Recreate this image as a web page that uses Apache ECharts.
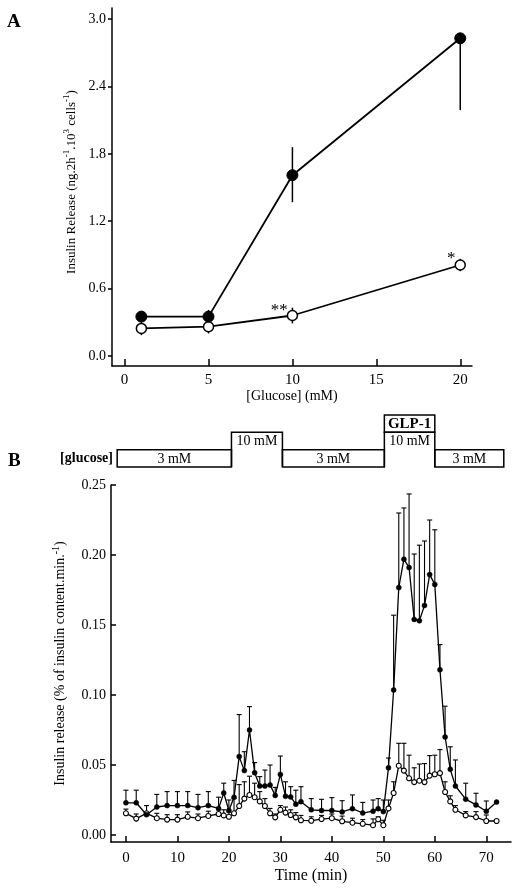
<!DOCTYPE html>
<html>
<head>
<meta charset="utf-8">
<script src="https://cdn.jsdelivr.net/npm/echarts@6/dist/echarts.min.js"></script>
<style>
  html, body { margin: 0; padding: 0; background: #fff; }
  #chart { width: 520px; height: 895px; }
</style>
</head>
<body>
<div id="chart"></div>
<script>
// ---- panel A: insulin release vs glucose ----
const glucoseConc = [1, 5, 10, 20]
const filledA = [0.35, 0.35, 1.61, 2.83]
const filledAErrUp = [0.03, 0.06, 0.25, 0]
const filledAErrDown = [0.03, 0.06, 0.24, 0.64]
const openA = [0.245, 0.26, 0.36, 0.81]
const openAErr = [0.06, 0.06, 0.07, 0.055]
const glucoseTicks = [0, 5, 10, 15, 20]
const releaseTicksA = [0, 0.6, 1.2, 1.8, 2.4, 3.0]
const starX = [9.22, 19.46]
const starY = [0.40, 0.87]
const starText = ['**', '*']

// ---- panel B: perifusion time course ----
const timeMin = [0, 2, 4, 6, 8, 10, 12, 14, 16, 18, 19, 20, 21, 22, 23, 24, 25, 26, 27, 28, 29, 30, 31, 32, 33, 34,
  36, 38, 40, 42, 44, 46, 48, 49, 50, 51, 52, 53, 54, 55, 56, 57, 58, 59, 60, 61, 62, 63, 64, 66, 68, 70, 72]
const filledB = [0.023, 0.023, 0.0145, 0.020, 0.021, 0.021, 0.021, 0.0195, 0.021, 0.019, 0.030, 0.0175, 0.027, 0.056,
  0.046, 0.075, 0.0445, 0.035, 0.035, 0.0357, 0.0283, 0.0433, 0.0277, 0.0272, 0.022, 0.0238,
  0.018, 0.0175, 0.0175, 0.0165, 0.0188, 0.0157, 0.017, 0.0188, 0.0167, 0.048, 0.1036, 0.1767, 0.197, 0.191,
  0.154, 0.153, 0.164, 0.186, 0.179, 0.118, 0.070, 0.047, 0.035, 0.0256, 0.0215, 0.017, 0.0235]
const filledBTop = [0.032, 0.032, 0.021, 0.029, 0.031, 0.031, 0.031, 0.029, 0.031, 0.027, 0.037, 0.025, 0.039, 0.086,
  0.0595, 0.0917, 0.0517, 0.0417, 0.0464, 0.05, 0.034, 0.0564, 0.038, 0.0345, 0.032, 0.0345,
  0.026, 0.0255, 0.0267, 0.0245, 0.0286, 0.0233, 0.025, 0.026, 0.025, 0.055, 0.157, 0.230, 0.2336, 0.2436,
  0.2007, 0.207, 0.21, 0.225, 0.218, 0.136, 0.092, 0.063, 0.0536, 0.037, 0.0298, 0.0243, null]
const openB = [0.0155, 0.0117, 0.0155, 0.012, 0.011, 0.011, 0.013, 0.012, 0.0136, 0.015, 0.014, 0.013, 0.0155, 0.0207,
  0.026, 0.0286, 0.027, 0.024, 0.0207, 0.0155, 0.0126, 0.018, 0.016, 0.0143, 0.0126, 0.0105,
  0.0102, 0.0114, 0.012, 0.0098, 0.0088, 0.008, 0.007, 0.0112, 0.007, 0.019, 0.030, 0.0495, 0.046, 0.0405,
  0.0378, 0.0388, 0.0378, 0.0424, 0.0434, 0.0442, 0.0307, 0.024, 0.018, 0.014, 0.0128, 0.010, 0.010]
const openBTop = [0.0185, 0.015, null, 0.0155, 0.0145, 0.0145, 0.0165, 0.015, 0.017, 0.018, 0.018, 0.0165, 0.026, 0.036,
  0.038, 0.042, 0.037, 0.031, 0.026, 0.019, 0.015, 0.021, 0.02, 0.018, 0.016, 0.014,
  0.013, 0.014, 0.015, 0.0135, 0.012, 0.011, 0.0115, 0.013, 0.0105, 0.025, 0.038, 0.0655, 0.0655, 0.057,
  0.048, 0.0507, 0.051, 0.0567, 0.057, 0.061, 0.038, 0.028, 0.021, 0.0167, 0.0167, 0.0143, null]
const timeTicks = [0, 10, 20, 30, 40, 50, 60, 70]
const releaseTicksB = [0, 0.05, 0.10, 0.15, 0.20, 0.25]

// ---- perifusion protocol bar ----
const protoStart = [-1.7, 20.5, 30.4, 50.2, 50.2, 60.0]
const protoEnd = [20.5, 30.4, 50.2, 60.0, 60.0, 73.4]
const protoLow = [0, 0, 0, 0, 2, 0]
const protoHigh = [1, 2, 1, 2, 3, 1]
const protoText = ['3 mM', '10 mM', '3 mM', '10 mM', 'GLP-1', '3 mM']

const FONT = 'Liberation Serif'
const INK = '#000'

const zip = (xs, ys) => xs.map((x, i) => [x, ys[i]])

const axisBase = (extra) => Object.assign({
  type: 'value',
  splitLine: { show: false },
  axisLine: { onZero: false, lineStyle: { color: INK, width: 1.5 } },
}, extra)

// error bars for panel A: vertical line lo -> hi, no caps
const barA = (params, api) => {
  const p1 = api.coord([api.value(0), api.value(1)])
  const p2 = api.coord([api.value(0), api.value(2)])
  return { type: 'line', shape: { x1: p1[0], y1: p1[1], x2: p2[0], y2: p2[1] }, style: { stroke: INK, lineWidth: 1.5 } }
}

// error bars for panel B: upward only, with a small cap
const barB = (params, api) => {
  const p1 = api.coord([api.value(0), api.value(1)])
  const p2 = api.coord([api.value(0), api.value(2)])
  return {
    type: 'group',
    children: [
      { type: 'line', shape: { x1: p1[0], y1: p1[1], x2: p2[0], y2: p2[1] }, style: { stroke: INK, lineWidth: 1.1 } },
      { type: 'line', shape: { x1: p2[0] - 2.5, y1: p2[1], x2: p2[0] + 2.5, y2: p2[1] }, style: { stroke: INK, lineWidth: 1.1 } }
    ]
  }
}

const protoItem = (params, api) => {
  const i = params.dataIndex
  const lo = api.coord([api.value(0), api.value(2)])
  const hi = api.coord([api.value(1), api.value(3)])
  const band = api.size([0, 1])[1]
  const cx = (lo[0] + hi[0]) / 2
  const top = protoLow[i] >= 2
  const label = {
    type: 'text',
    x: cx,
    y: hi[1] + band / 2 + 0.5,
    style: {
      text: protoText[i], fill: INK, fontFamily: FONT,
      fontSize: top ? 15 : 14, fontWeight: top ? 'bold' : 'normal',
      align: 'center', verticalAlign: 'middle'
    }
  }
  let shape
  if (protoHigh[i] - protoLow[i] > 1) {
    shape = {
      type: 'polyline',
      shape: { points: [[lo[0], lo[1]], [lo[0], hi[1]], [hi[0], hi[1]], [hi[0], lo[1]]] },
      style: { stroke: INK, fill: null, lineWidth: 1.5 }
    }
  } else {
    shape = {
      type: 'rect',
      shape: { x: lo[0], y: hi[1], width: hi[0] - lo[0], height: lo[1] - hi[1] },
      style: { stroke: INK, fill: 'none', lineWidth: 1.5 }
    }
  }
  return { type: 'group', children: [shape, label] }
}

const labelStyle = { color: INK, fontFamily: FONT, fontSize: 14 }

const option = {
  animation: false,
  backgroundColor: '#fff',
  textStyle: { fontFamily: FONT, color: INK },
  grid: [
    { left: 112, top: 8, width: 360, height: 358 },
    { left: 111, top: 485, width: 400, height: 357 },
    { left: 111, top: 415, width: 400, height: 52 }
  ],
  xAxis: [
    axisBase({
      gridIndex: 0, min: -0.75, max: 20.7,
      axisTick: { inside: true, length: 7, customValues: glucoseTicks, lineStyle: { color: INK, width: 1.5 } },
      axisLabel: { customValues: glucoseTicks, margin: 7, fontSize: 15, color: INK, fontFamily: FONT },
      name: '[Glucose] (mM)', nameLocation: 'middle', nameGap: 22,
      nameTextStyle: { color: INK, fontFamily: FONT, fontSize: 14 }
    }),
    axisBase({
      gridIndex: 1, min: -2.9, max: 74.8,
      axisTick: { inside: true, length: 6, customValues: timeTicks, lineStyle: { color: INK, width: 1.5 } },
      axisLabel: { customValues: timeTicks, margin: 9, fontSize: 15, color: INK, fontFamily: FONT },
      name: 'Time (min)', nameLocation: 'middle', nameGap: 26,
      nameTextStyle: { color: INK, fontFamily: FONT, fontSize: 16 }
    }),
    { gridIndex: 2, type: 'value', min: -2.9, max: 74.8, show: false }
  ],
  yAxis: [
    axisBase({
      gridIndex: 0, min: -0.09, max: 3.1,
      axisTick: { inside: false, length: 4, customValues: releaseTicksA, lineStyle: { color: INK, width: 1.5 } },
      axisLabel: Object.assign({ customValues: releaseTicksA, margin: 6, formatter: v => v.toFixed(1) }, labelStyle),
      name: '{n|Insulin Release (ng.2h}{s|-1}{n|.10}{s|3}{n| cells}{s|-1}{n|)}',
      nameLocation: 'middle', nameGap: 30,
      nameTextStyle: {
        color: INK, fontFamily: FONT, fontSize: 13, padding: [0, 0, 0, 10],
        rich: {
          n: { fontFamily: FONT, fontSize: 13, color: INK, lineHeight: 15, verticalAlign: 'bottom' },
          s: { fontFamily: FONT, fontSize: 9, color: INK, lineHeight: 15, verticalAlign: 'top' }
        }
      }
    }),
    axisBase({
      gridIndex: 1, min: -0.005, max: 0.25,
      axisTick: { inside: true, length: 5, customValues: releaseTicksB, lineStyle: { color: INK, width: 1.5 } },
      axisLabel: Object.assign({ customValues: releaseTicksB, margin: 5, formatter: v => v.toFixed(2) }, labelStyle),
      name: '{n|Insulin release (% of insulin content.min.}{s|-1}{n|)}',
      nameLocation: 'middle', nameGap: 44,
      nameTextStyle: {
        color: INK, fontFamily: FONT, fontSize: 14,
        rich: {
          n: { fontFamily: FONT, fontSize: 14, color: INK, lineHeight: 16, verticalAlign: 'bottom' },
          s: { fontFamily: FONT, fontSize: 10, color: INK, lineHeight: 16, verticalAlign: 'top' }
        }
      }
    }),
    { gridIndex: 2, type: 'value', min: 0, max: 3, show: false }
  ],
  series: [
    // panel A
    {
      type: 'custom', xAxisIndex: 0, yAxisIndex: 0, renderItem: barA, z: 1,
      data: glucoseConc.map((c, i) => [c, openA[i] - openAErr[i], openA[i] + openAErr[i]])
    },
    {
      type: 'custom', xAxisIndex: 0, yAxisIndex: 0, renderItem: barA, z: 1,
      data: glucoseConc.map((c, i) => [c, filledA[i] - filledAErrDown[i], filledA[i] + filledAErrUp[i]])
    },
    {
      type: 'line', xAxisIndex: 0, yAxisIndex: 0, z: 3, data: zip(glucoseConc, openA),
      symbol: 'circle', symbolSize: 10, showAllSymbol: true,
      lineStyle: { color: INK, width: 1.8 },
      itemStyle: { color: '#fff', borderColor: INK, borderWidth: 1.5 }
    },
    {
      type: 'line', xAxisIndex: 0, yAxisIndex: 0, z: 4, data: zip(glucoseConc, filledA),
      symbol: 'circle', symbolSize: 11, showAllSymbol: true,
      lineStyle: { color: INK, width: 1.8 },
      itemStyle: { color: INK, borderColor: INK, borderWidth: 1 }
    },
    {
      type: 'custom', xAxisIndex: 0, yAxisIndex: 0, z: 5,
      data: starX.map((x, i) => [x, starY[i]]),
      renderItem: (params, api) => {
        const p = api.coord([api.value(0), api.value(1)])
        return {
          type: 'text', x: p[0], y: p[1],
          style: { text: starText[params.dataIndex], fill: INK, fontFamily: FONT, fontSize: 17, align: 'center', verticalAlign: 'middle' }
        }
      }
    },
    // panel B
    {
      type: 'custom', xAxisIndex: 1, yAxisIndex: 1, renderItem: barB, z: 1,
      data: timeMin.map((t, i) => [t, openB[i], openBTop[i]]).filter(r => r[2] != null)
    },
    {
      type: 'custom', xAxisIndex: 1, yAxisIndex: 1, renderItem: barB, z: 1,
      data: timeMin.map((t, i) => [t, filledB[i], filledBTop[i]]).filter(r => r[2] != null)
    },
    {
      type: 'line', xAxisIndex: 1, yAxisIndex: 1, z: 3, data: zip(timeMin, openB),
      symbol: 'circle', symbolSize: 5, showAllSymbol: true,
      lineStyle: { color: INK, width: 1.3 },
      itemStyle: { color: '#fff', borderColor: INK, borderWidth: 1.1 }
    },
    {
      type: 'line', xAxisIndex: 1, yAxisIndex: 1, z: 4, data: zip(timeMin, filledB),
      symbol: 'circle', symbolSize: 5, showAllSymbol: true,
      lineStyle: { color: INK, width: 1.3 },
      itemStyle: { color: INK, borderColor: INK, borderWidth: 0.5 }
    },
    // protocol bar above panel B
    {
      type: 'custom', xAxisIndex: 2, yAxisIndex: 2, renderItem: protoItem, z: 2,
      data: protoStart.map((s, i) => [s, protoEnd[i], protoLow[i], protoHigh[i]])
    }
  ],
  graphic: [
    { type: 'text', left: 7, top: 13, style: { text: 'A', fill: INK, fontFamily: FONT, fontSize: 19, fontWeight: 'bold' } },
    { type: 'text', left: 8, top: 452, style: { text: 'B', fill: INK, fontFamily: FONT, fontSize: 19, fontWeight: 'bold' } },
    { type: 'text', x: 113, y: 458, style: { text: '[glucose]', fill: INK, fontFamily: FONT, fontSize: 14, fontWeight: 'bold', align: 'right', verticalAlign: 'middle' } }
  ]
}

const chart = echarts.init(document.getElementById('chart'))
chart.setOption(option)
window.addEventListener('resize', () => chart.resize())
</script>
</body>
</html>
